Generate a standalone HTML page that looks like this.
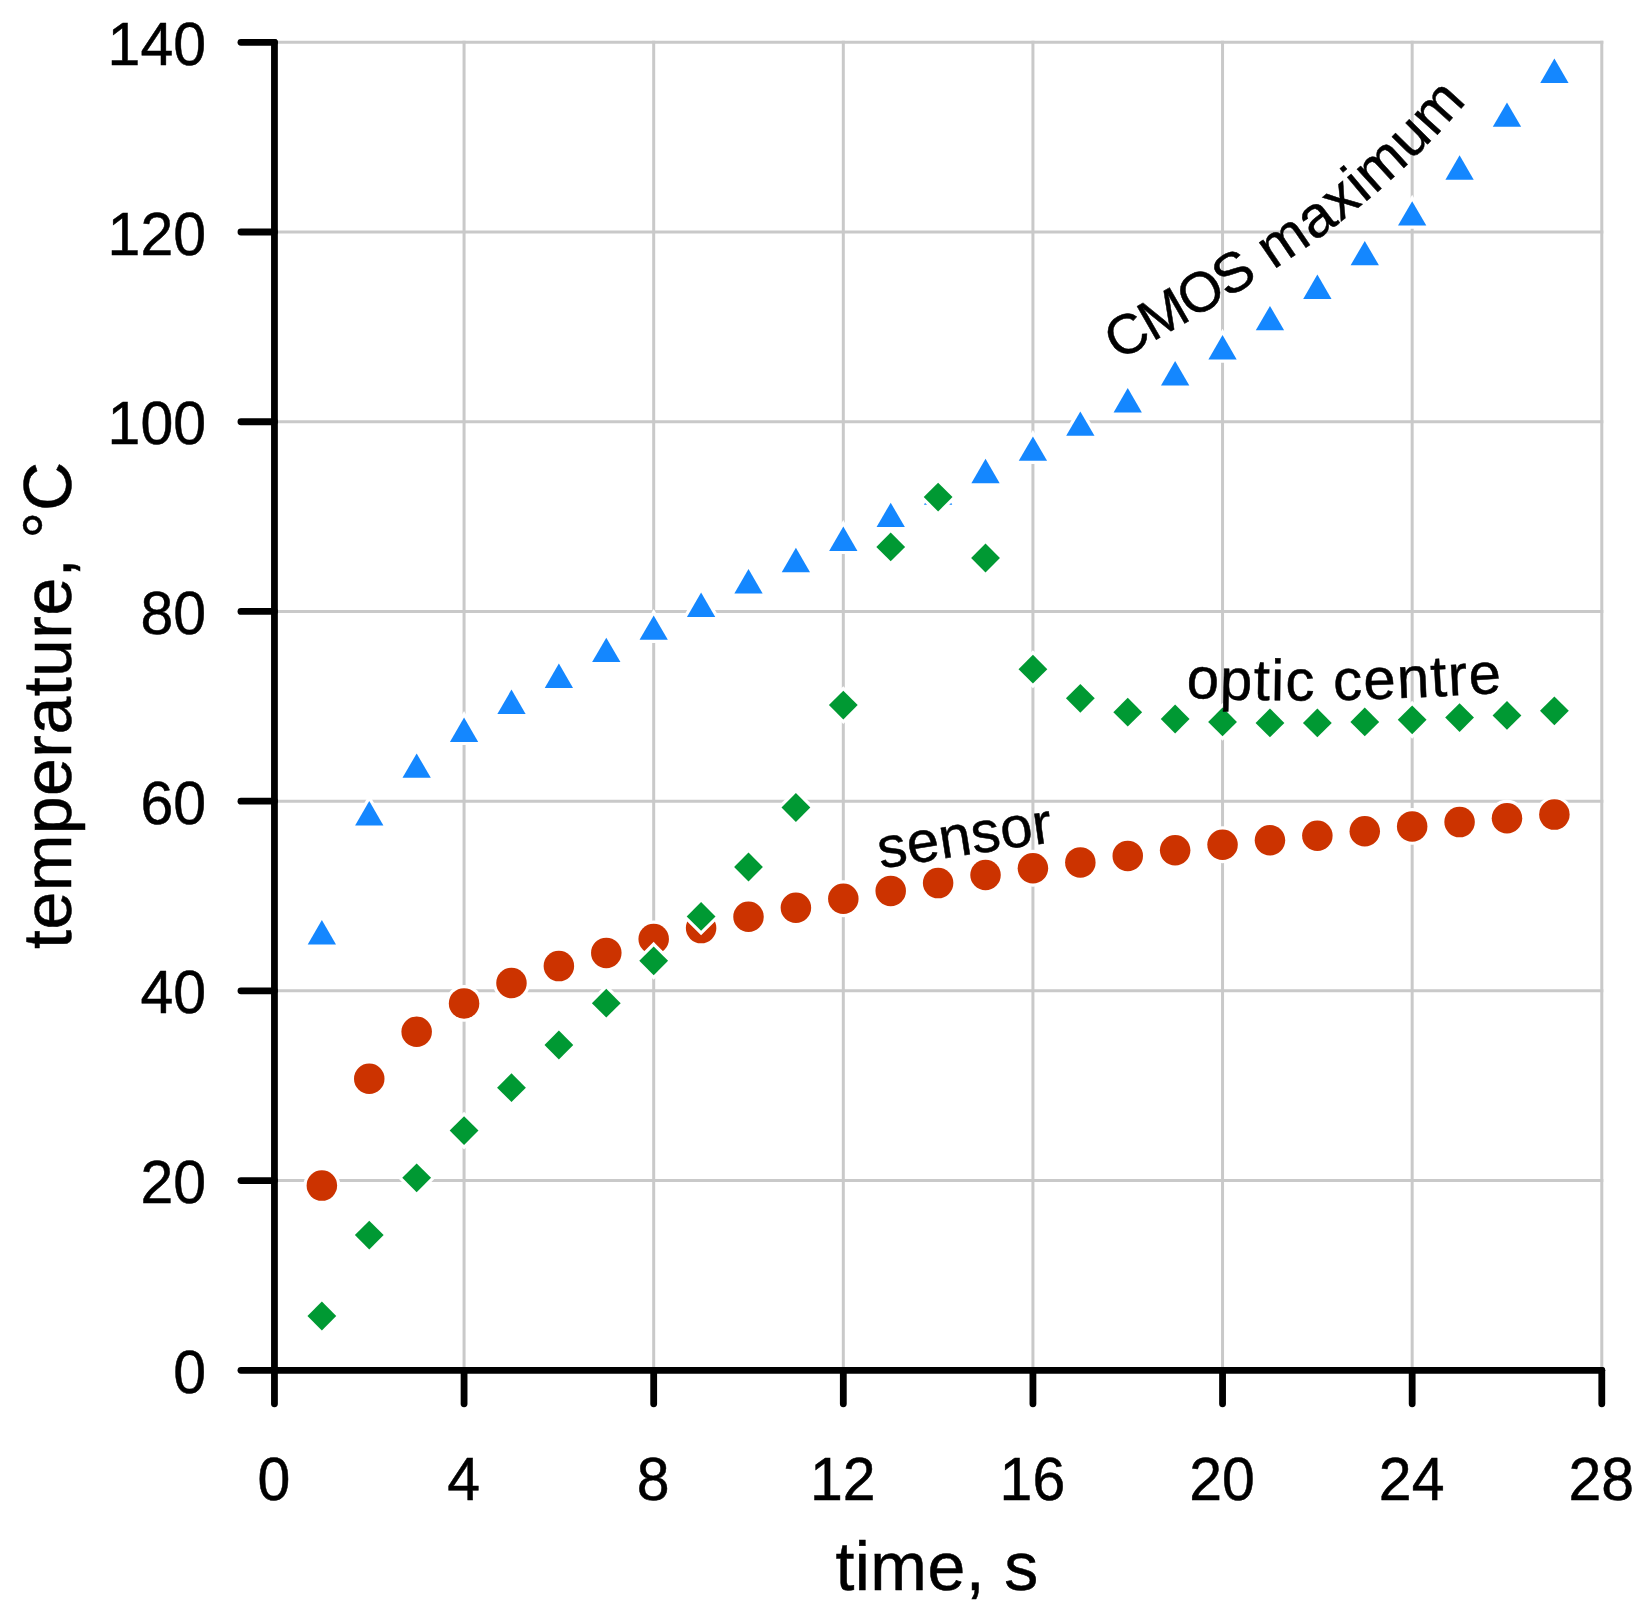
<!DOCTYPE html>
<html lang="en"><head><meta charset="utf-8"><title>temperature vs time</title>
<style>html,body{margin:0;padding:0;background:#fff}svg{display:block}text{font-family:"Liberation Sans",sans-serif;fill:#000}</style></head><body>
<svg width="1650" height="1618" viewBox="0 0 1650 1618">
<rect width="1650" height="1618" fill="#fff"/>
<g stroke="#c9c9c9" stroke-width="3" fill="none">
<line x1="274.45" y1="1180.59" x2="1603.29" y2="1180.59"/>
<line x1="274.45" y1="990.87" x2="1603.29" y2="990.87"/>
<line x1="274.45" y1="801.16" x2="1603.29" y2="801.16"/>
<line x1="274.45" y1="611.44" x2="1603.29" y2="611.44"/>
<line x1="274.45" y1="421.73" x2="1603.29" y2="421.73"/>
<line x1="274.45" y1="232.01" x2="1603.29" y2="232.01"/>
<line x1="274.45" y1="42.30" x2="1603.29" y2="42.30"/>
<line x1="464.07" y1="40.80" x2="464.07" y2="1370.30"/>
<line x1="653.69" y1="40.80" x2="653.69" y2="1370.30"/>
<line x1="843.31" y1="40.80" x2="843.31" y2="1370.30"/>
<line x1="1032.93" y1="40.80" x2="1032.93" y2="1370.30"/>
<line x1="1222.55" y1="40.80" x2="1222.55" y2="1370.30"/>
<line x1="1412.17" y1="40.80" x2="1412.17" y2="1370.30"/>
<line x1="1601.79" y1="40.80" x2="1601.79" y2="1370.30"/>
</g>
<g fill="#1487ff" stroke="#fff" stroke-width="6.4" stroke-linejoin="miter" paint-order="stroke fill">
<path d="M321.86 920.00L336.00 944.40L307.71 944.40Z"/>
<path d="M369.26 801.00L383.41 825.40L355.11 825.40Z"/>
<path d="M416.66 753.40L430.81 777.80L402.51 777.80Z"/>
<path d="M464.07 717.50L478.22 741.90L449.92 741.90Z"/>
<path d="M511.48 689.60L525.62 714.00L497.33 714.00Z"/>
<path d="M558.88 663.60L573.03 688.00L544.73 688.00Z"/>
<path d="M606.29 637.70L620.44 662.10L592.14 662.10Z"/>
<path d="M653.69 615.40L667.84 639.80L639.54 639.80Z"/>
<path d="M701.10 592.50L715.25 616.90L686.95 616.90Z"/>
<path d="M748.50 569.00L762.65 593.40L734.35 593.40Z"/>
<path d="M795.90 547.80L810.05 572.20L781.75 572.20Z"/>
<path d="M843.31 526.50L857.46 550.90L829.16 550.90Z"/>
<path d="M890.71 502.70L904.86 527.10L876.56 527.10Z"/>
<path d="M938.12 480.40L952.27 504.80L923.97 504.80Z"/>
<path d="M985.53 458.80L999.68 483.20L971.38 483.20Z"/>
<path d="M1032.93 436.40L1047.08 460.80L1018.78 460.80Z"/>
<path d="M1080.34 411.40L1094.49 435.80L1066.18 435.80Z"/>
<path d="M1127.74 388.00L1141.89 412.40L1113.59 412.40Z"/>
<path d="M1175.14 361.10L1189.30 385.50L1160.99 385.50Z"/>
<path d="M1222.55 335.10L1236.70 359.50L1208.40 359.50Z"/>
<path d="M1269.95 305.90L1284.11 330.30L1255.80 330.30Z"/>
<path d="M1317.36 274.60L1331.51 299.00L1303.21 299.00Z"/>
<path d="M1364.77 240.90L1378.92 265.30L1350.62 265.30Z"/>
<path d="M1412.17 201.20L1426.32 225.60L1398.02 225.60Z"/>
<path d="M1459.58 155.30L1473.73 179.70L1445.42 179.70Z"/>
<path d="M1506.98 102.40L1521.13 126.80L1492.83 126.80Z"/>
<path d="M1554.38 58.60L1568.54 83.00L1540.23 83.00Z"/>
</g>
<g fill="#cc3300" stroke="#fff" stroke-width="6.4" paint-order="stroke fill">
<circle cx="321.86" cy="1185.60" r="15.25"/>
<circle cx="369.26" cy="1078.70" r="15.25"/>
<circle cx="416.66" cy="1031.70" r="15.25"/>
<circle cx="464.07" cy="1003.40" r="15.25"/>
<circle cx="511.48" cy="983.00" r="15.25"/>
<circle cx="558.88" cy="966.10" r="15.25"/>
<circle cx="606.29" cy="952.90" r="15.25"/>
<circle cx="653.69" cy="939.00" r="15.25"/>
<circle cx="701.10" cy="928.10" r="15.25"/>
<circle cx="748.50" cy="916.80" r="15.25"/>
<circle cx="795.90" cy="907.80" r="15.25"/>
<circle cx="843.31" cy="898.70" r="15.25"/>
<circle cx="890.71" cy="890.90" r="15.25"/>
<circle cx="938.12" cy="883.10" r="15.25"/>
<circle cx="985.53" cy="875.00" r="15.25"/>
<circle cx="1032.93" cy="868.20" r="15.25"/>
<circle cx="1080.34" cy="862.40" r="15.25"/>
<circle cx="1127.74" cy="855.90" r="15.25"/>
<circle cx="1175.14" cy="850.20" r="15.25"/>
<circle cx="1222.55" cy="844.80" r="15.25"/>
<circle cx="1269.95" cy="840.30" r="15.25"/>
<circle cx="1317.36" cy="835.70" r="15.25"/>
<circle cx="1364.77" cy="831.30" r="15.25"/>
<circle cx="1412.17" cy="826.40" r="15.25"/>
<circle cx="1459.58" cy="822.10" r="15.25"/>
<circle cx="1506.98" cy="818.30" r="15.25"/>
<circle cx="1554.38" cy="814.60" r="15.25"/>
</g>
<g fill="#009933" stroke="#fff" stroke-width="6.4" stroke-linejoin="miter" paint-order="stroke fill">
<path d="M321.86 1301.60L336.25 1316.00L321.86 1330.40L307.46 1316.00Z"/>
<path d="M369.26 1220.70L383.66 1235.10L369.26 1249.50L354.86 1235.10Z"/>
<path d="M416.66 1163.40L431.06 1177.80L416.66 1192.20L402.26 1177.80Z"/>
<path d="M464.07 1116.20L478.47 1130.60L464.07 1145.00L449.67 1130.60Z"/>
<path d="M511.48 1073.30L525.88 1087.70L511.48 1102.10L497.08 1087.70Z"/>
<path d="M558.88 1030.60L573.28 1045.00L558.88 1059.40L544.48 1045.00Z"/>
<path d="M606.29 988.80L620.69 1003.20L606.29 1017.60L591.89 1003.20Z"/>
<path d="M653.69 946.40L668.09 960.80L653.69 975.20L639.29 960.80Z"/>
<path d="M701.10 902.00L715.50 916.40L701.10 930.80L686.70 916.40Z"/>
<path d="M748.50 852.60L762.90 867.00L748.50 881.40L734.10 867.00Z"/>
<path d="M795.90 793.10L810.30 807.50L795.90 821.90L781.50 807.50Z"/>
<path d="M843.31 690.70L857.71 705.10L843.31 719.50L828.91 705.10Z"/>
<path d="M890.71 532.50L905.11 546.90L890.71 561.30L876.31 546.90Z"/>
<path d="M938.12 482.70L952.52 497.10L938.12 511.50L923.72 497.10Z"/>
<path d="M985.53 543.60L999.93 558.00L985.53 572.40L971.13 558.00Z"/>
<path d="M1032.93 654.80L1047.33 669.20L1032.93 683.60L1018.53 669.20Z"/>
<path d="M1080.34 683.90L1094.74 698.30L1080.34 712.70L1065.93 698.30Z"/>
<path d="M1127.74 697.80L1142.14 712.20L1127.74 726.60L1113.34 712.20Z"/>
<path d="M1175.14 704.60L1189.55 719.00L1175.14 733.40L1160.74 719.00Z"/>
<path d="M1222.55 707.50L1236.95 721.90L1222.55 736.30L1208.15 721.90Z"/>
<path d="M1269.95 708.50L1284.36 722.90L1269.95 737.30L1255.55 722.90Z"/>
<path d="M1317.36 708.50L1331.76 722.90L1317.36 737.30L1302.96 722.90Z"/>
<path d="M1364.77 707.50L1379.17 721.90L1364.77 736.30L1350.37 721.90Z"/>
<path d="M1412.17 705.40L1426.57 719.80L1412.17 734.20L1397.77 719.80Z"/>
<path d="M1459.58 703.20L1473.98 717.60L1459.58 732.00L1445.17 717.60Z"/>
<path d="M1506.98 701.00L1521.38 715.40L1506.98 729.80L1492.58 715.40Z"/>
<path d="M1554.38 696.40L1568.79 710.80L1554.38 725.20L1539.98 710.80Z"/>
</g>
<g stroke="#000" stroke-width="6.8" stroke-linecap="round" stroke-linejoin="round" fill="none">
<path d="M274.45 42.30V1403.80"/>
<path d="M240.95 1370.30H1601.79"/>
<path d="M240.95 1180.59H274.45"/>
<path d="M240.95 990.87H274.45"/>
<path d="M240.95 801.16H274.45"/>
<path d="M240.95 611.44H274.45"/>
<path d="M240.95 421.73H274.45"/>
<path d="M240.95 232.01H274.45"/>
<path d="M240.95 42.30H274.45"/>
<path d="M464.07 1370.30V1403.80"/>
<path d="M653.69 1370.30V1403.80"/>
<path d="M843.31 1370.30V1403.80"/>
<path d="M1032.93 1370.30V1403.80"/>
<path d="M1222.55 1370.30V1403.80"/>
<path d="M1412.17 1370.30V1403.80"/>
<path d="M1601.79 1370.30V1403.80"/>
</g>
<g font-size="61" text-anchor="end" stroke="#000" stroke-width="0.5">
<text transform="translate(206 1392.90) scale(0.967 1)">0</text>
<text transform="translate(206 1203.19) scale(0.967 1)">20</text>
<text transform="translate(206 1013.47) scale(0.967 1)">40</text>
<text transform="translate(206 823.76) scale(0.967 1)">60</text>
<text transform="translate(206 634.04) scale(0.967 1)">80</text>
<text transform="translate(206 444.33) scale(0.967 1)">100</text>
<text transform="translate(206 254.61) scale(0.967 1)">120</text>
<text transform="translate(206 64.90) scale(0.967 1)">140</text>
</g>
<g font-size="61" text-anchor="middle" stroke="#000" stroke-width="0.5">
<text transform="translate(273.95 1500.3) scale(0.967 1)">0</text>
<text transform="translate(463.57 1500.3) scale(0.967 1)">4</text>
<text transform="translate(653.19 1500.3) scale(0.967 1)">8</text>
<text transform="translate(842.81 1500.3) scale(0.967 1)">12</text>
<text transform="translate(1032.43 1500.3) scale(0.967 1)">16</text>
<text transform="translate(1222.05 1500.3) scale(0.967 1)">20</text>
<text transform="translate(1411.67 1500.3) scale(0.967 1)">24</text>
<text transform="translate(1601.29 1500.3) scale(0.967 1)">28</text>
</g>
<g stroke="#000" stroke-width="0.5" font-size="68" text-anchor="middle">
<text x="937.1" y="1590" letter-spacing="0.4">time, s</text>
<text transform="translate(71.4 705.2) rotate(-90)" letter-spacing="0.45">temperature, °C</text>
</g>
<defs>
<path id="pc" d="M1100.00 372.16L1105.00 369.19L1110.00 366.25L1115.00 363.32L1120.00 360.41L1125.00 357.51L1130.00 354.61L1135.00 351.73L1140.00 348.86L1145.00 345.99L1150.00 343.13L1155.00 340.27L1160.00 337.41L1165.00 334.56L1170.00 331.70L1175.00 328.83L1180.00 325.97L1185.00 323.09L1190.00 320.21L1195.00 317.32L1200.00 314.42L1205.00 311.51L1210.00 308.58L1215.00 305.63L1220.00 302.67L1225.00 299.69L1230.00 296.69L1235.00 293.67L1240.00 290.63L1245.00 287.55L1250.00 284.46L1255.00 281.33L1260.00 278.18L1265.00 274.99L1270.00 271.77L1275.00 268.51L1280.00 265.22L1285.00 261.90L1290.00 258.53L1295.00 255.12L1300.00 251.67L1305.00 248.17L1310.00 244.63L1315.00 241.05L1320.00 237.41L1325.00 233.72L1330.00 229.99L1335.00 226.20L1340.00 222.35L1345.00 218.45L1350.00 214.49L1355.00 210.47L1360.00 206.38L1365.00 202.24L1370.00 198.03L1375.00 193.76L1380.00 189.41L1385.00 185.00L1390.00 180.52L1395.00 175.97L1400.00 171.34L1405.00 166.64L1410.00 161.86L1415.00 157.00L1420.00 152.06L1425.00 147.04L1430.00 141.93L1435.00 136.75L1440.00 131.47L1445.00 126.11L1450.00 120.66L1455.00 115.11L1460.00 109.48L1465.00 103.75L1470.00 97.92L1475.00 92.00L1480.00 85.98L1485.00 79.86L1490.00 73.63L1495.00 67.30L1500.00 60.87"/>
<path id="po" d="M1150.00 694.82L1155.00 695.22L1160.00 695.61L1165.00 695.98L1170.00 696.33L1175.00 696.67L1180.00 696.99L1185.00 697.30L1190.00 697.60L1195.00 697.87L1200.00 698.13L1205.00 698.38L1210.00 698.62L1215.00 698.83L1220.00 699.04L1225.00 699.23L1230.00 699.40L1235.00 699.57L1240.00 699.71L1245.00 699.85L1250.00 699.97L1255.00 700.08L1260.00 700.18L1265.00 700.26L1270.00 700.33L1275.00 700.38L1280.00 700.43L1285.00 700.46L1290.00 700.48L1295.00 700.49L1300.00 700.49L1305.00 700.47L1310.00 700.45L1315.00 700.41L1320.00 700.36L1325.00 700.30L1330.00 700.23L1335.00 700.15L1340.00 700.06L1345.00 699.96L1350.00 699.85L1355.00 699.73L1360.00 699.60L1365.00 699.46L1370.00 699.31L1375.00 699.15L1380.00 698.98L1385.00 698.80L1390.00 698.62L1395.00 698.42L1400.00 698.22L1405.00 698.01L1410.00 697.79L1415.00 697.56L1420.00 697.32L1425.00 697.08L1430.00 696.83L1435.00 696.57L1440.00 696.31L1445.00 696.04L1450.00 695.76L1455.00 695.47L1460.00 695.18L1465.00 694.88L1470.00 694.58L1475.00 694.27L1480.00 693.95L1485.00 693.63L1490.00 693.30L1495.00 692.97L1500.00 692.63L1505.00 692.29L1510.00 691.94L1515.00 691.58L1520.00 691.23L1525.00 690.87L1530.00 690.50L1535.00 690.13L1540.00 689.75L1545.00 689.38L1550.00 689.00L1555.00 688.61L1560.00 688.22"/>
<path id="ps" d="M840.00 876.07L845.00 875.17L850.00 874.27L855.00 873.38L860.00 872.50L865.00 871.62L870.00 870.74L875.00 869.87L880.00 869.01L885.00 868.15L890.00 867.29L895.00 866.44L900.00 865.59L905.00 864.75L910.00 863.92L915.00 863.09L920.00 862.26L925.00 861.44L930.00 860.63L935.00 859.82L940.00 859.01L945.00 858.21L950.00 857.42L955.00 856.63L960.00 855.84L965.00 855.06L970.00 854.29L975.00 853.52L980.00 852.75L985.00 851.99L990.00 851.24L995.00 850.49L1000.00 849.74L1005.00 849.00L1010.00 848.27L1015.00 847.54L1020.00 846.81L1025.00 846.09L1030.00 845.38L1035.00 844.67L1040.00 843.96L1045.00 843.26L1050.00 842.57L1055.00 841.88L1060.00 841.19L1065.00 840.51L1070.00 839.83L1075.00 839.16L1080.00 838.50L1085.00 837.84L1090.00 837.18L1095.00 836.53L1100.00 835.89"/>
</defs>
<g stroke="#000" stroke-width="0.5">
<text font-size="58"><textPath href="#pc" startOffset="21.5"><tspan font-size="56" letter-spacing="-1.7">CMOS</tspan><tspan letter-spacing="2.4"> </tspan><tspan letter-spacing="1">maximum</tspan></textPath></text>
<text font-size="58" letter-spacing="1.5"><textPath href="#po" startOffset="36">optic centre</textPath></text>
<text font-size="58" letter-spacing="0.2"><textPath href="#ps" startOffset="41.5">sensor</textPath></text>
</g>
</svg></body></html>
